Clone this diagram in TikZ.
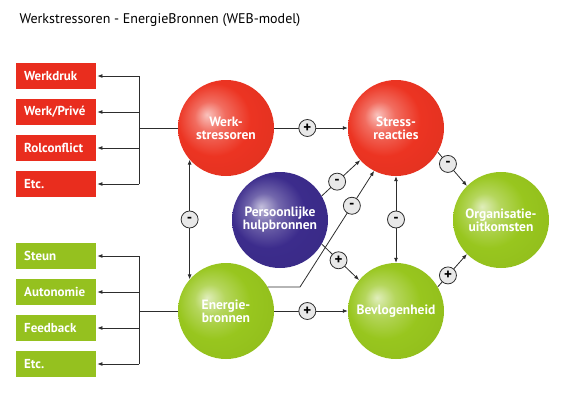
\documentclass[tikz,border=0pt]{standalone}
\usepackage{fontspec}
\setmainfont{PT Sans}
\usetikzlibrary{arrows.meta}

\definecolor{webred}{RGB}{233,45,30}
\definecolor{ballred}{RGB}{236,52,34}
\definecolor{webgreen}{RGB}{149,193,31}
\definecolor{ballgreen}{RGB}{152,198,30}
\definecolor{webblue}{RGB}{60,44,140}
\definecolor{webline}{RGB}{45,45,45}
\definecolor{websign}{RGB}{232,232,232}

% Soft ball shading, lighter than the standard one

\makeatletter
\pgfdeclareradialshading[tikz@ball]{orb}{\pgfqpoint{-10bp}{7bp}}{%
	color(0bp)=(tikz@ball!30!white);
	color(8bp)=(tikz@ball!72!white);
	color(19bp)=(tikz@ball);
	color(32bp)=(tikz@ball!96!black);
	color(50bp)=(tikz@ball!90!black)}
\makeatother

\tikzset{
	orb/.style = {circle, minimum size = 96pt, inner sep = 0pt, ball color = #1, shading = orb,
		text = white, align = center, font = \bfseries\fontsize{13.5}{13}\selectfont},
	factor/.style = {anchor = west, fill = #1, text = white, text width = 64pt, inner xsep = 8pt,
		minimum height = 26pt, font = \bfseries\fontsize{13}{13}\selectfont},
	sign/.style = {circle, draw = webline, fill = websign, minimum size = 17pt, inner sep = 0pt,
		font = \bfseries\fontsize{15}{15}\selectfont},
	link/.style = {draw = webline, line width = 0.8pt}
}

\begin{document}
\begin{tikzpicture}[x = 1pt, y = -1pt, > = {Latex[length = 5pt, width = 4pt]}]

	% Canvas
	
	\useasboundingbox (0, 0) rectangle (566, 400);
	
	% Title
	
	\node [anchor = west, font = \fontsize{14}{14}\selectfont] (title) at (16, 20) {Werkstressoren - EnergieBronnen (WEB-model)};
	
	% The five balls
	
	\node [orb = ballred] (werk) at (226, 128) {Werk-\\stressoren};
	\node [orb = ballred] (reactie) at (396, 128) {Stress-\\reacties};
	\node [orb = webblue] (hulp) at (280, 220) {Persoonlijke\\hulpbronnen};
	\node [orb = ballgreen] (energie) at (226, 311) {Energie-\\bronnen};
	\node [orb = ballgreen] (bevlo) at (396, 311) {Bevlogenheid};
	\node [orb = ballgreen] (uitkomst) at (501, 220) {Organisatie-\\uitkomsten};
	
	% Factor boxes
	
	\foreach \txt [count = \i] in {Werkdruk, Werk/Privé, Rolconflict, Etc.}
		\node [factor = webred] (r\i) at (16, 40 + 36 * \i) {\txt};
	
	\foreach \txt [count = \i] in {Steun, Autonomie, Feedback, Etc.}
		\node [factor = webgreen] (g\i) at (16, 220 + 36 * \i) {\txt};
	
	% Brackets to the boxes
	
	\coordinate (rjoin) at (139, 128);
	\coordinate (gjoin) at (139, 311);
	
	\draw [link] (werk) -- (rjoin);
	\draw [link] (rjoin |- r1) -- (rjoin |- r4);
	\draw [link] (energie) -- (gjoin);
	\draw [link] (gjoin |- g1) -- (gjoin |- g4);
	
	\foreach \i in {1, ..., 4} {
		\draw [link, ->, shorten > = 1pt] (rjoin |- r\i) -- (r\i.east);
		\draw [link, ->, shorten > = 1pt] (gjoin |- g\i) -- (g\i.east);
	}
	
	% Effects between the balls
	
	\coordinate (bend) at (300, 287);
	
	\begin{scope}[link]
	
		\draw [->] (werk) -- node [sign, pos = 0.45] {+} (reactie);
		\draw [<->] (werk.221) -- node [sign] {-} (energie.139);
		\draw [<->] (reactie) -- node [sign] {-} (bevlo);
		
		\draw [->] (hulp.30) -- node [sign, pos = 0.4] {-} (reactie.222);
		\draw [->] (hulp.-30) -- node [sign, pos = 0.45] {+} (bevlo.140);
		
		\draw [->] (energie.30) -- (bend) -- node [sign, pos = 0.7] {-} (reactie.243);
		\draw [->] (energie) -- node [sign, pos = 0.45] {+} (bevlo);
		
		\draw [->] (reactie.-30) -- node [sign, pos = 0.35] {-} (uitkomst.135);
		\draw [->] (bevlo.30) -- node [sign, pos = 0.35] {+} (uitkomst.225);
		
	\end{scope}

\end{tikzpicture}
\end{document}
